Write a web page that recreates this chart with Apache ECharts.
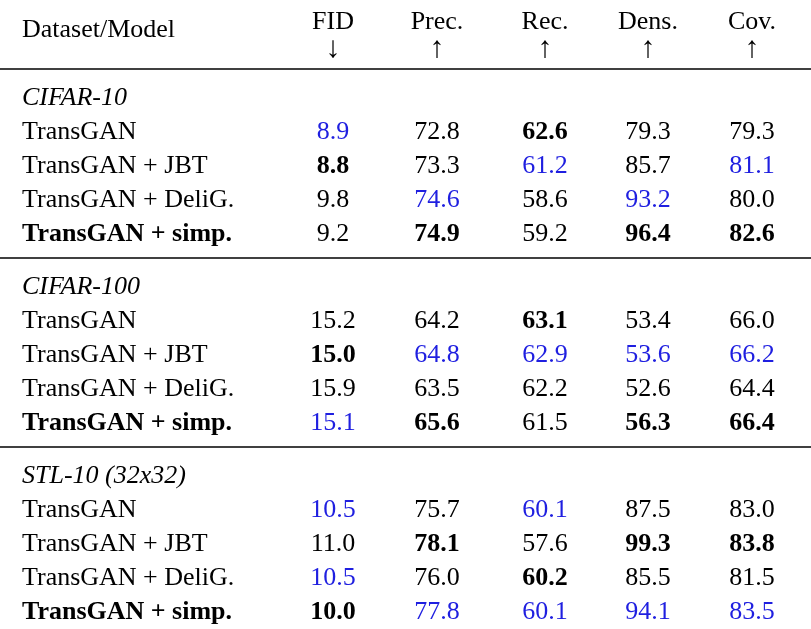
<!DOCTYPE html>
<html lang="en">
  <head>
    <meta charset="UTF-8" />
    <title>TransGAN table</title>
    <style type="text/css">
      html, body { margin: 0; padding: 0; background: #fff; }
      #main { width: 811px; height: 629px; }
    </style>
  </head>
  <body>
    <div id="main"></div>
    <script src="https://cdn.jsdelivr.net/npm/echarts@6/dist/echarts.min.js"></script>
    <script type="text/javascript">
      var headers = ["FID", "Prec.", "Rec.", "Dens.", "Cov."];
      var arrows = ["\u2193", "\u2191", "\u2191", "\u2191", "\u2191"];
      var sections = ["CIFAR-10", "CIFAR-100", "STL-10 (32x32)"];
      var models = ["TransGAN", "TransGAN + JBT", "TransGAN + DeliG.", "TransGAN + simp."];

      var cifar10 = [
        [8.9, 72.8, 62.6, 79.3, 79.3],
        [8.8, 73.3, 61.2, 85.7, 81.1],
        [9.8, 74.6, 58.6, 93.2, 80.0],
        [9.2, 74.9, 59.2, 96.4, 82.6]
      ];
      var cifar100 = [
        [15.2, 64.2, 63.1, 53.4, 66.0],
        [15.0, 64.8, 62.9, 53.6, 66.2],
        [15.9, 63.5, 62.2, 52.6, 64.4],
        [15.1, 65.6, 61.5, 56.3, 66.4]
      ];
      var stl10 = [
        [10.5, 75.7, 60.1, 87.5, 83.0],
        [11.0, 78.1, 57.6, 99.3, 83.8],
        [10.5, 76.0, 60.2, 85.5, 81.5],
        [10.0, 77.8, 60.1, 94.1, 83.5]
      ];
      // b = bold (best), u = blue (second best), "" = plain
      var cifar10Marks = [
        ["u", "", "b", "", ""],
        ["b", "", "u", "", "u"],
        ["", "u", "", "u", ""],
        ["", "b", "", "b", "b"]
      ];
      var cifar100Marks = [
        ["", "", "b", "", ""],
        ["b", "u", "u", "u", "u"],
        ["", "", "", "", ""],
        ["u", "b", "", "b", "b"]
      ];
      var stl10Marks = [
        ["u", "", "u", "", ""],
        ["", "b", "", "b", "b"],
        ["u", "", "b", "", ""],
        ["b", "u", "u", "u", "u"]
      ];

      var tables = [cifar10, cifar100, stl10];
      var marks = [cifar10Marks, cifar100Marks, stl10Marks];

      var colX = [333, 437, 545, 648, 752];
      var font = "'Liberation Serif', 'DejaVu Serif', serif";
      var fs = 26;
      var blue = "#1f1fe0";
      var els = [];

      function txt(x, y, s, opts) {
        opts = opts || {};
        els.push({
          type: "text", x: x, y: y,
          style: {
            text: s, fill: opts.fill || "#000",
            font: (opts.italic ? "italic " : "") + (opts.bold ? "bold " : "") + (opts.size || fs) + "px " + font,
            textAlign: opts.align || "left", textVerticalAlign: "middle"
          }
        });
      }
      function rule(y, w) {
        els.push({ type: "line", shape: { x1: 0, y1: y, x2: 811, y2: y }, style: { stroke: "#000", lineWidth: w } });
      }

      txt(22, 30, "Dataset/Model");
      headers.forEach(function (h, i) {
        txt(colX[i], 22, h, { align: "center" });
        txt(colX[i], 49, arrows[i], { align: "center", size: 30 });
      });
      rule(69, 1.5);

      var sectionTop = [98, 287, 476];
      tables.forEach(function (tbl, t) {
        txt(22, sectionTop[t], sections[t], { italic: true });
        tbl.forEach(function (row, r) {
          var y = sectionTop[t] + 34 * (r + 1);
          var last = r === 3;
          txt(22, y, models[r], { bold: last });
          row.forEach(function (v, c) {
            var m = marks[t][r][c];
            txt(colX[c], y, v.toFixed(1), { align: "center", bold: m === "b", fill: m === "u" ? blue : "#000" });
          });
        });
        if (t < 2) rule(sectionTop[t] + 160, 1.5);
      });

      var myChart = echarts.init(document.getElementById("main"));
      myChart.setOption({ animation: false, graphic: { elements: els } });
    </script>
  </body>
</html>
